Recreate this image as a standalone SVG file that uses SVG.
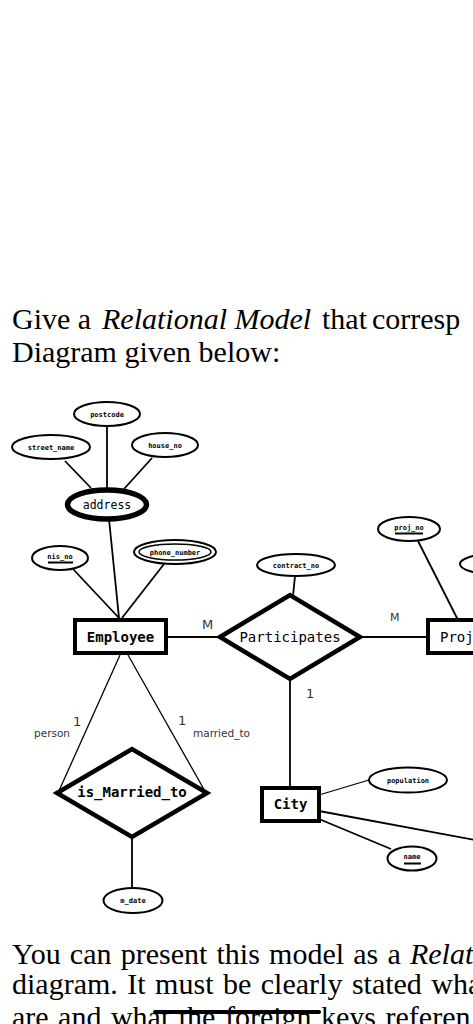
<svg xmlns="http://www.w3.org/2000/svg" width="473" height="1024" viewBox="0 0 473 1024">
<style>
.attr{fill:#fff;stroke:#000;stroke-width:2}
.ent{fill:#fff;stroke:#000;stroke-width:4}
.rel{fill:#fff;stroke:#000;stroke-width:4.5;stroke-linejoin:miter}
.ln{stroke:#000;stroke-width:1.8;fill:none}
.thin{stroke:#000;stroke-width:1.3;fill:none}
.at{font-family:"DejaVu Sans Mono",monospace;font-size:7px;font-weight:bold;text-anchor:middle;fill:#000}
.et{font-family:"DejaVu Sans Mono",monospace;font-size:14px;text-anchor:middle;fill:#000}
.b{font-weight:bold}
.card{font-family:"DejaVu Sans",sans-serif;fill:#333}
.prose{font-family:"Liberation Serif",serif;font-size:30px;fill:#000}
.ul{fill:#000}
</style>
<rect width="473" height="1024" fill="#fff"/>

<g id="intro">
<text class="prose" y="329"><tspan x="12">Give a</tspan><tspan x="102" font-style="italic">Relational Model</tspan><tspan x="322">that</tspan><tspan x="372">corresp</tspan></text>
<text class="prose" x="12" y="362">Diagram given below:</text>
</g>

<g id="connectors">
<line class="ln" x1="65" y1="461" x2="91" y2="488"/>
<line class="ln" x1="107" y1="426" x2="107" y2="490"/>
<line class="ln" x1="152" y1="458" x2="124" y2="489"/>
<line class="ln" x1="109" y1="519" x2="119" y2="618"/>
<line class="ln" x1="73" y1="569" x2="119" y2="618"/>
<line class="ln" x1="164" y1="564" x2="122" y2="618"/>
<line class="ln" x1="166" y1="637" x2="220" y2="637"/>
<line class="ln" x1="295" y1="576" x2="293" y2="596"/>
<line class="ln" x1="360" y1="637" x2="428" y2="637"/>
<line class="ln" x1="418" y1="541" x2="458" y2="620"/>
<line class="ln" x1="290" y1="679" x2="290" y2="788"/>
<line class="thin" x1="120" y1="655" x2="58" y2="793"/>
<line class="thin" x1="128" y1="655" x2="206" y2="793"/>
<line class="ln" x1="132" y1="837" x2="132" y2="888"/>
<line class="thin" x1="319" y1="795" x2="369" y2="780"/>
<line class="ln" x1="319" y1="819" x2="391" y2="849"/>
<line class="ln" x1="319" y1="811" x2="475" y2="840"/>
<text class="card" x="202" y="629" font-size="13">M</text>
<text class="card" x="390" y="621" font-size="11">M</text>
<text class="card" x="306" y="698" font-size="13">1</text>
<text class="card" x="73" y="726" font-size="13">1</text>
<text class="card" x="34" y="737" font-size="10.5">person</text>
<text class="card" x="178" y="725" font-size="13">1</text>
<text class="card" x="193" y="737" font-size="10.5">married_to</text>
</g>

<g id="postcode"><ellipse class="attr" cx="107" cy="414" rx="33" ry="12"/><text class="at" x="107" y="416.5">postcode</text></g>
<g id="street_name"><ellipse class="attr" cx="51" cy="447" rx="39" ry="12"/><text class="at" x="51" y="449.5">street_name</text></g>
<g id="house_no"><ellipse class="attr" cx="165" cy="445" rx="33" ry="12"/><text class="at" x="165" y="447.5">house_no</text></g>
<g id="address"><ellipse class="attr" cx="107" cy="504.5" rx="39.5" ry="14.5" style="stroke-width:5.5"/><text class="et" x="107" y="508.5" style="font-size:11.5px">address</text></g>
<g id="nis_no"><ellipse class="attr" cx="60" cy="558" rx="28" ry="12"/><text class="at" x="60" y="559">nis_no</text><rect class="ul" x="48" y="561.5" width="25" height="2"/></g>
<g id="phone_number"><ellipse class="attr" cx="175" cy="552" rx="41" ry="12"/><ellipse class="attr" cx="175" cy="552" rx="36" ry="8" style="stroke-width:1.5"/><text class="at" x="175" y="554.5">phone_number</text></g>
<g id="Employee"><rect class="ent" x="75" y="620" width="91" height="33"/><text class="et b" x="120.5" y="642">Employee</text></g>
<g id="contract_no"><ellipse class="attr" cx="296" cy="565" rx="39" ry="11"/><text class="at" x="296" y="567.5">contract_no</text></g>
<g id="Participates"><polygon class="rel" points="220,637 290,595 360,637 290,679"/><text class="et" x="290" y="642">Participates</text></g>
<g id="Project"><rect class="ent" x="428" y="620" width="110" height="33"/><text class="et" x="440" y="642" style="text-anchor:start">Proj</text></g>
<g id="proj_no"><ellipse class="attr" cx="409" cy="529" rx="31" ry="12"/><text class="at" x="409" y="530">proj_no</text><rect class="ul" x="395" y="532.5" width="28" height="2"/></g>
<g id="proj_attr"><ellipse class="attr" cx="492" cy="564" rx="32" ry="10"/></g>
<g id="City"><rect class="ent" x="262" y="788" width="57" height="33"/><text class="et b" x="290.5" y="809">City</text></g>
<g id="population"><ellipse class="attr" cx="408" cy="780" rx="39" ry="12.5"/><text class="at" x="408" y="782.5">population</text></g>
<g id="name"><ellipse class="attr" cx="412" cy="858.5" rx="24.5" ry="12"/><text class="at" x="412" y="859">name</text><rect class="ul" x="404" y="862.5" width="17" height="2"/></g>
<g id="is_Married_to"><polygon class="rel" points="57,793 132,749 207,793 132,837"/><text class="et b" x="132" y="797">is_Married_to</text></g>
<g id="m_date"><ellipse class="attr" cx="133" cy="900.5" rx="29.5" ry="12.5"/><text class="at" x="133" y="903">m_date</text></g>

<g id="outro">
<text class="prose" x="12" y="964" word-spacing="1.7">You can present this model as a <tspan font-style="italic">Relat</tspan></text>
<text class="prose" x="12" y="994" word-spacing="2">diagram. It must be clearly stated wha</text>
<text class="prose" x="12" y="1027" word-spacing="2">are and what the foreign keys referen</text>
<rect x="153" y="1010" width="168" height="4" rx="2" fill="#000"/>
</g>
</svg>
